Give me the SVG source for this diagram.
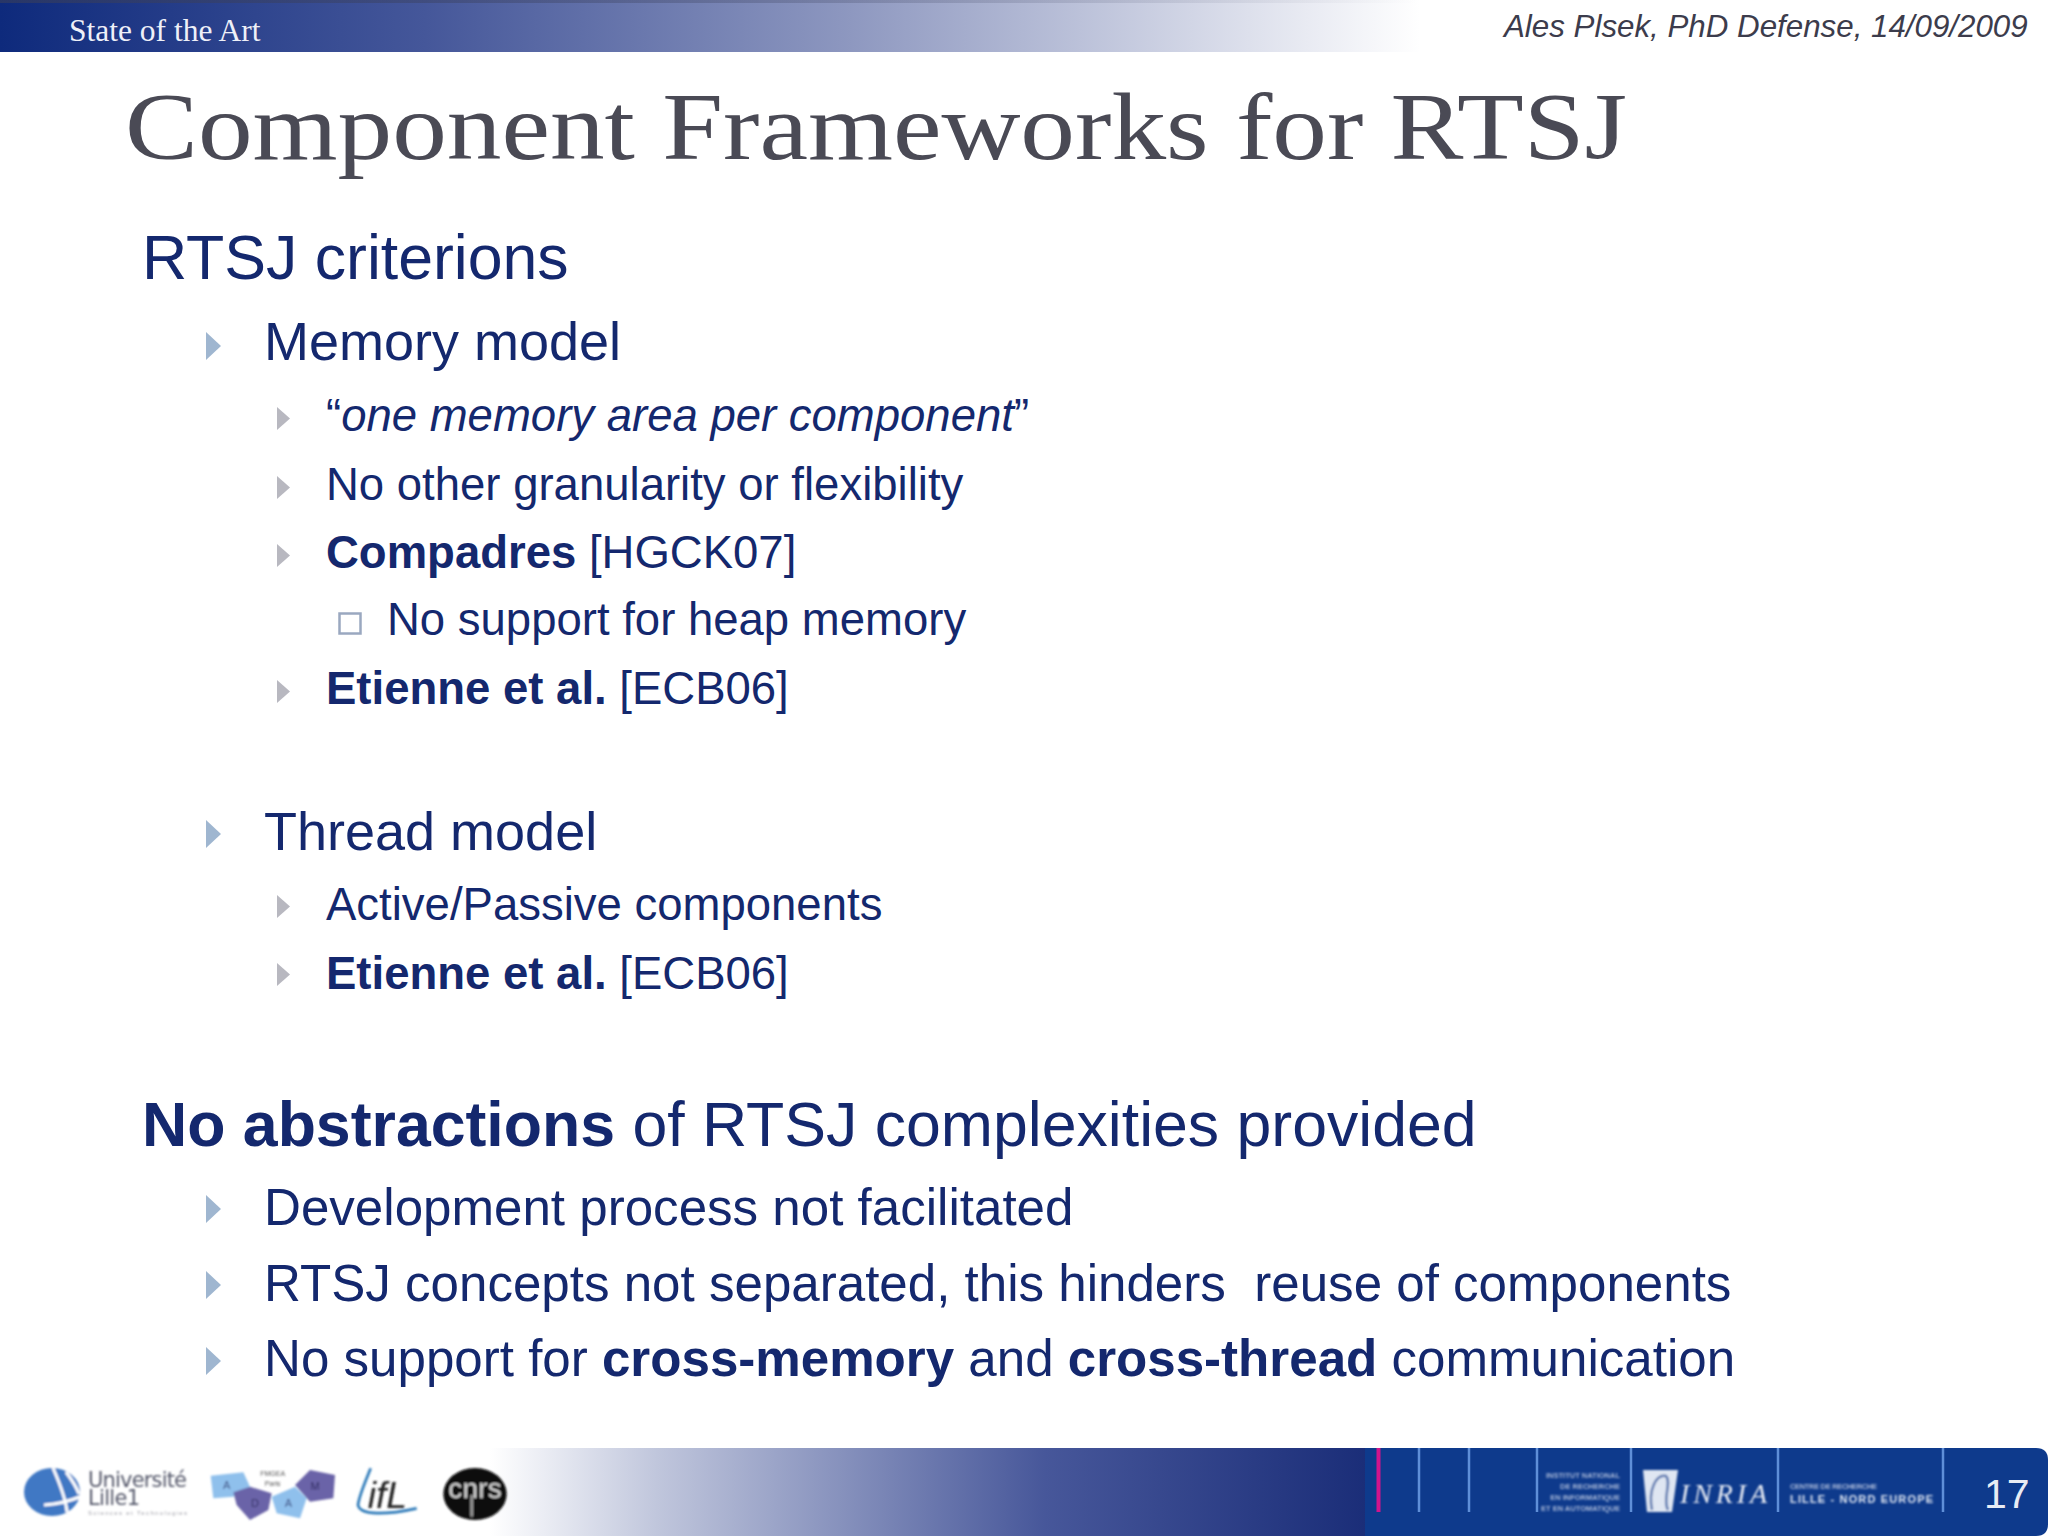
<svg xmlns="http://www.w3.org/2000/svg" width="2048" height="1536" viewBox="0 0 2048 1536">
<defs>
<linearGradient id="top" x1="0" x2="1" y1="0" y2="0"><stop offset="0" stop-color="#0e2a7c"/><stop offset=".3" stop-color="#45579a"/><stop offset=".6" stop-color="#8e98c0"/><stop offset="1" stop-color="#ffffff"/></linearGradient>
<linearGradient id="topline" x1="0" x2="1" y1="0" y2="0"><stop offset="0" stop-color="#3a3f5a"/><stop offset="1" stop-color="#3a3f5a" stop-opacity="0"/></linearGradient>
<linearGradient id="bot" x1="0" x2="1" y1="0" y2="0"><stop offset="0" stop-color="#ffffff"/><stop offset=".19" stop-color="#c0c6dc"/><stop offset=".63" stop-color="#47579a"/><stop offset="1" stop-color="#1a2d78"/></linearGradient>
<filter id="soft" x="-10%" y="-10%" width="120%" height="120%"><feGaussianBlur stdDeviation="0.8"/></filter>
<polygon id="b1" points="0,0 15,14 0,28" fill="#9fb6d0"/>
<polygon id="b2" points="0,0 13,11.5 0,23" fill="#b8b8c0"/>
</defs>
<style>
text{font-family:"Liberation Sans",Arial,sans-serif;fill:#14286e}
.h{font-size:62.6px}.m{font-size:54px}.l{font-size:51.1px}.s{font-size:45.5px}.b{font-weight:bold}.i{font-style:italic}
.ln{stroke:#5f8fd8;stroke-width:2.5;fill:none}
</style>
<rect width="2048" height="1536" fill="#ffffff"/>
<g id="header">
<rect width="1420" height="52" fill="url(#top)"/>
<rect width="1420" height="3" fill="url(#topline)" opacity=".6"/>
<text x="69" y="41" style="font-family:'Liberation Serif',serif;font-size:31.5px;fill:#eef0f8">State of the Art</text>
<text x="1504" y="37" class="i" style="font-size:31.3px;fill:#3c3c4c">Ales Plsek, PhD Defense, 14/09/2009</text>
</g>
<text id="title" x="125" y="159" textLength="1502" lengthAdjust="spacingAndGlyphs" style="font-family:'Liberation Serif',serif;font-size:96px;fill:#4a4a55">Component Frameworks for RTSJ</text>
<g id="body">
<text x="142" y="279" class="h">RTSJ criterions</text>
<use href="#b1" x="206" y="332"/><text x="264" y="360" class="m">Memory model</text>
<use href="#b2" x="277" y="407"/><text x="326" y="431" class="s"><tspan>“</tspan><tspan class="i">one memory area per component</tspan><tspan>”</tspan></text>
<use href="#b2" x="277" y="476"/><text x="326" y="500" class="s">No other granularity or flexibility</text>
<use href="#b2" x="277" y="544"/><text x="326" y="568" class="s"><tspan class="b">Compadres</tspan> [HGCK07]</text>
<rect x="339.500" y="613.500" width="21" height="20" fill="#fff" stroke="#9aa8c0" stroke-width="2.500"/><text x="387" y="635" class="s">No support for heap memory</text>
<use href="#b2" x="277" y="680"/><text x="326" y="704" class="s"><tspan class="b">Etienne et al.</tspan> [ECB06]</text>
<use href="#b1" x="206" y="820"/><text x="264" y="850" class="m">Thread model</text>
<use href="#b2" x="277" y="895"/><text x="326" y="920" class="s">Active/Passive components</text>
<use href="#b2" x="277" y="963"/><text x="326" y="989" class="s"><tspan class="b">Etienne et al.</tspan> [ECB06]</text>
<text x="142" y="1146" class="h"><tspan class="b">No abstractions</tspan> of RTSJ complexities provided</text>
<use href="#b1" x="206" y="1195"/><text x="264" y="1225" class="l">Development process not facilitated</text>
<use href="#b1" x="206" y="1271"/><text x="264" y="1301" class="l">RTSJ concepts not separated, this hinders &#160;reuse of components</text>
<use href="#b1" x="206" y="1347"/><text x="264" y="1376" class="l">No support for <tspan class="b">cross-memory</tspan> and <tspan class="b">cross-thread</tspan> communication</text>
</g>
<g id="footer">
<rect x="490" y="1448" width="880" height="88" fill="url(#bot)"/>
<path d="M1365 1448H2036Q2048 1448 2048 1460V1524Q2048 1536 2036 1536H1365Z" fill="#0e3a8c"/>
<rect x="1376.500" y="1448" width="4" height="64" fill="#d0148c"/>
<path class="ln" d="M1419 1448V1512M1469 1448V1512M1537 1448V1512M1631 1448V1512M1778 1448V1512M1943 1448V1512"/>
<text x="1984" y="1508" style="font-size:41px;fill:#e8ecf4">17</text>
<g id="inria" filter="url(#soft)">
<g style="font-size:7.5px;text-anchor:end;font-weight:bold">
<text x="1620" y="1478" style="fill:#a8b8d8">INSTITUT NATIONAL</text>
<text x="1620" y="1489" style="fill:#a8b8d8">DE RECHERCHE</text>
<text x="1620" y="1500" style="fill:#a8b8d8">EN INFORMATIQUE</text>
<text x="1620" y="1511" style="fill:#a8b8d8">ET EN AUTOMATIQUE</text>
</g>
<path d="M1643 1470H1678L1672 1512H1647Z" fill="#dfe6f2"/>
<path d="M1652 1510C1648 1490 1656 1474 1666 1476C1672 1482 1662 1500 1668 1510" fill="none" stroke="#5a78b0" stroke-width="2.500"/>
<text x="1680" y="1503" textLength="87" class="i" style="font-family:'Liberation Serif',serif;font-size:28px;fill:#e8ecf4">INRIA</text>
<text x="1790" y="1489" textLength="87" style="font-size:7.500px;fill:#a8b8d8;font-weight:bold">CENTRE DE RECHERCHE</text>
<text x="1790" y="1503" textLength="143" style="font-size:11px;fill:#dfe6f2;font-weight:bold">LILLE - NORD EUROPE</text>
</g>
</g>
<g id="logos" filter="url(#soft)">
<g id="lille">
<ellipse cx="52" cy="1492" rx="28" ry="24" fill="#3f78c4"/>
<path d="M53 1468C60 1484 66 1500 67 1512M44 1505C60 1504 70 1501 82 1496M66 1472C72 1480 76 1486 79 1494" fill="none" stroke="#ffffff" stroke-width="3"/>
<text x="88" y="1487" textLength="99" style="font-family:'DejaVu Sans',sans-serif;font-size:21px;fill:#55586a">Université</text>
<text x="88" y="1505" textLength="52" style="font-family:'DejaVu Sans',sans-serif;font-size:21px;fill:#55586a">Lille1</text>
<text x="88" y="1515" textLength="99" style="font-size:6px;fill:#a0a0a8">Sciences et Technologies</text>
</g>
<g id="adam" transform="translate(200 1455) scale(.33333)">
<path d="M32 62L130 52L150 95L100 125L40 130Z" fill="#8fc0ec"/>
<path d="M100 112L150 95L215 115L205 165L150 195L110 150Z" fill="#6a64a8"/>
<path d="M215 125L285 95L320 130L300 190L230 175Z" fill="#8fc0ec"/>
<path d="M285 90L330 45L405 60L400 130L330 140Z" fill="#6a64a8"/>
<text x="218" y="64" style="font-size:21px;text-anchor:middle;fill:#555">FMGEA</text>
<text x="218" y="92" style="font-size:21px;text-anchor:middle;fill:#555">Paris</text>
<g style="font-size:33px;text-anchor:middle"><text x="80" y="102" style="fill:#3a4a80">A</text><text x="165" y="155" style="fill:#2d2a60">D</text><text x="265" y="155" style="fill:#3a4a80">A</text><text x="345" y="105" style="fill:#2d2a60">M</text></g>
</g>
<g id="lifl" transform="translate(200 1455) scale(.33333)">
<path d="M512 40C496 80 478 120 474 150C480 182 560 180 650 160" fill="none" stroke="#2a78b8" stroke-width="8"/>
<text x="503" y="160" class="i" style="font-size:112px;fill:#202020">ifL</text>
</g>
<g id="cnrs" transform="translate(200 1455) scale(.33333)">
<ellipse cx="825" cy="117" rx="95" ry="78" fill="#0c0c0c"/>
<path d="M815 120V185" stroke="#9a9a9a" stroke-width="8"/>
<text x="825" y="130" textLength="160" style="font-size:84px;text-anchor:middle;fill:#d8d8d8">cnrs</text>
</g>
</g>
</svg>
